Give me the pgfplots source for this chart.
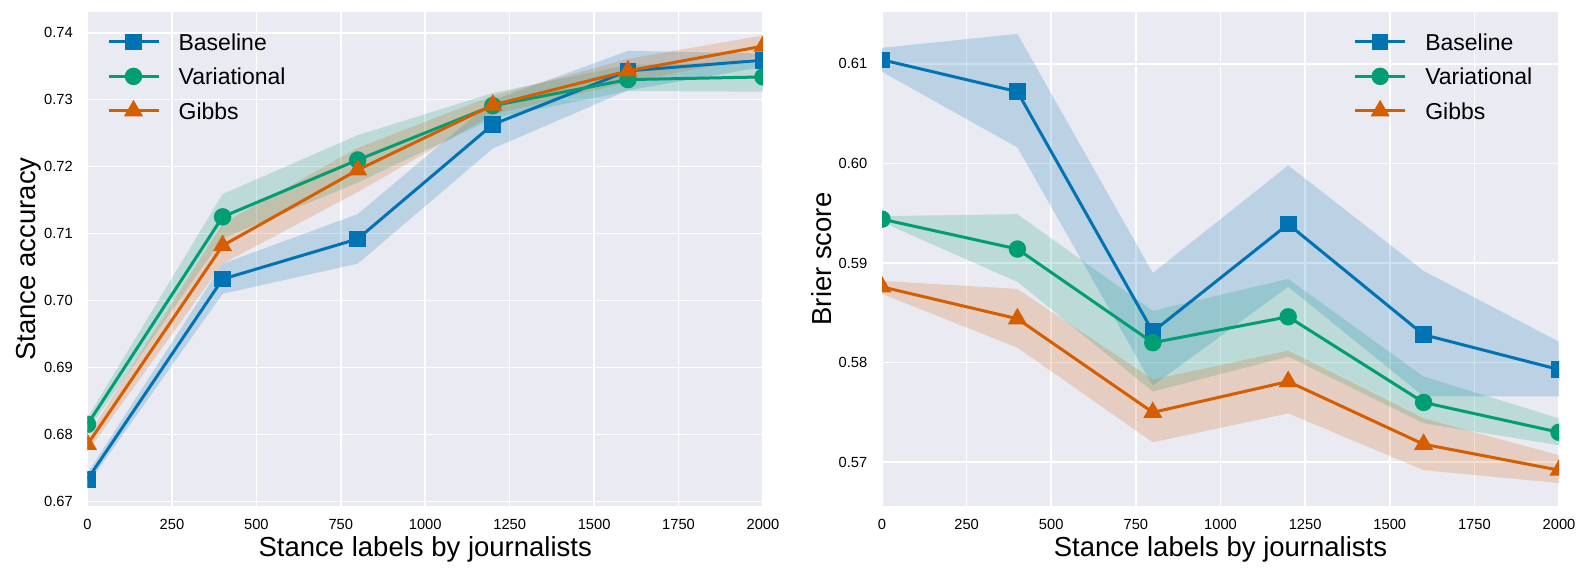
\documentclass[border=0pt]{standalone}
\usepackage{pgfplots}
\pgfplotsset{compat=1.18}
\usepackage{pgfplotstable}
\usepackage{fontspec}
\setmainfont{Liberation Sans}
\definecolor{cb}{HTML}{0173B2}
\definecolor{cg}{HTML}{029E73}
\definecolor{co}{HTML}{D55E00}
\definecolor{bgc}{HTML}{EAEAF2}

\pgfplotstableread{
x    bm     vm     gm
0    0.6733 0.6815 0.6785
400  0.7032 0.7125 0.7082
800  0.7092 0.7210 0.7195
1200 0.7263 0.7291 0.7292
1600 0.7343 0.7330 0.7343
2000 0.7359 0.7334 0.7380
}\acc

\pgfplotstableread{
x    bm     vm     gm
0    0.6104 0.5944 0.5876
400  0.6072 0.5914 0.5844
800  0.5831 0.5820 0.5750
1200 0.5939 0.5846 0.5781
1600 0.5828 0.5760 0.5718
2000 0.5793 0.5730 0.5692
}\brier

\pgfplotsset{
  mystyle/.style={
    scale only axis, width=337.75pt, height=247pt,
    xmin=0, xmax=2000, xtick={0,250,...,2000},
    axis background/.style={fill=bgc},
    axis line style={draw=none},
    grid=major, major grid style={white, line width=0.8pt},
    major tick length=0pt,
    clip marker paths=true,
    tick label style={font=\fontsize{7.35}{8}\selectfont},
    /pgf/number format/assume math mode=true,
    /pgf/number format/set thousands separator={},
    yticklabel style={/pgf/number format/fixed, /pgf/number format/fixed zerofill, /pgf/number format/precision=2, xshift=-3.8pt},
    scaled y ticks=false,
    xticklabel style={yshift=-3.2pt},
    label style={font=\fontsize{13.75}{16}\selectfont},
    xlabel={Stance labels by journalists},
    xlabel style={at={(axis description cs:0.5,-0.1032)}, anchor=base},
    legend style={draw=none, fill=none, inner sep=0pt, outer sep=0pt,
      font=\fontsize{11.5}{13}\selectfont, row sep=8.7pt, column sep=9.3pt,
      nodes={inner sep=0pt, text height=8.5pt, text depth=0pt}, anchor=north west},
    legend cell align=left,
    legend image code/.code={\draw[mark repeat=2,mark phase=2] plot coordinates {(0pt,0pt)(12.5pt,0pt)(25pt,0pt)};},
  },
  band/.style={draw=none, fill=#1, fill opacity=0.2, forget plot, mark=none},
  bl/.style={cb, line width=1.5pt, mark=square*, mark size=3.4pt, mark options={solid}},
  vl/.style={cg, line width=1.5pt, mark=*, mark size=3.6pt, mark options={solid}},
  gl/.style={co, line width=1.5pt, mark=triangle*, mark size=4pt, mark options={solid}},
}

\begin{document}%
\begin{tikzpicture}
\begin{axis}[mystyle, at={(0pt,0pt)}, anchor=south west,
  ymin=0.6693, ymax=0.7431, ytick={0.67,0.68,0.69,0.70,0.71,0.72,0.73,0.74},
  ylabel={Stance accuracy},
  ylabel style={at={(axis description cs:-0.0777,0.5)}, anchor=base},
  legend style={at={(axis description cs:0.0289,0.9565)}}]
\addplot[band=cb] coordinates {(0,0.6742)(400,0.7055)(800,0.7129)(1200,0.7299)(1600,0.7373)(2000,0.7369)
  (2000,0.7349)(1600,0.7314)(1200,0.7227)(800,0.7055)(400,0.7010)(0,0.6725)};
\addplot[band=cg] coordinates {(0,0.6825)(400,0.7159)(800,0.7247)(1200,0.7310)(1600,0.7352)(2000,0.7356)
  (2000,0.7312)(1600,0.7313)(1200,0.7272)(800,0.7176)(400,0.7093)(0,0.6805)};
\addplot[band=co] coordinates {(0,0.6797)(400,0.7115)(800,0.7228)(1200,0.7306)(1600,0.7361)(2000,0.7396)
  (2000,0.7365)(1600,0.7326)(1200,0.7278)(800,0.7162)(400,0.7055)(0,0.6774)};
\addplot[bl] table[x=x,y=bm]{\acc};
\addplot[vl] table[x=x,y=vm]{\acc};
\addplot[gl] table[x=x,y=gm]{\acc};
\legend{Baseline,Variational,Gibbs}
\end{axis}
\begin{axis}[mystyle, at={(397.25pt,0pt)}, anchor=south west, width=338.5pt,
  ymin=0.5656, ymax=0.6152, ytick={0.57,0.58,0.59,0.60,0.61},
  ylabel={Brier score},
  ylabel style={at={(axis description cs:-0.0747,0.5)}, anchor=base},
  legend style={at={(axis description cs:0.6967,0.9565)}}]
\addplot[band=cb] coordinates {(0,0.6116)(400,0.6130)(800,0.5890)(1200,0.5998)(1600,0.5892)(2000,0.5821)
  (2000,0.5766)(1600,0.5766)(1200,0.5876)(800,0.5777)(400,0.6016)(0,0.6092)};
\addplot[band=cg] coordinates {(0,0.5947)(400,0.5949)(800,0.5852)(1200,0.5884)(1600,0.5786)(2000,0.5744)
  (2000,0.5717)(1600,0.5739)(1200,0.5806)(800,0.5771)(400,0.5881)(0,0.5941)};
\addplot[band=co] coordinates {(0,0.5882)(400,0.5874)(800,0.5783)(1200,0.5812)(1600,0.5744)(2000,0.5707)
  (2000,0.5679)(1600,0.5692)(1200,0.5749)(800,0.5720)(400,0.5815)(0,0.5869)};
\addplot[bl] table[x=x,y=bm]{\brier};
\addplot[vl] table[x=x,y=vm]{\brier};
\addplot[gl] table[x=x,y=gm]{\brier};
\legend{Baseline,Variational,Gibbs}
\end{axis}
\pgfresetboundingbox
\path[use as bounding box] (-43.75pt,-34.5pt) rectangle (752.25pt,253pt);
\end{tikzpicture}%
\end{document}
